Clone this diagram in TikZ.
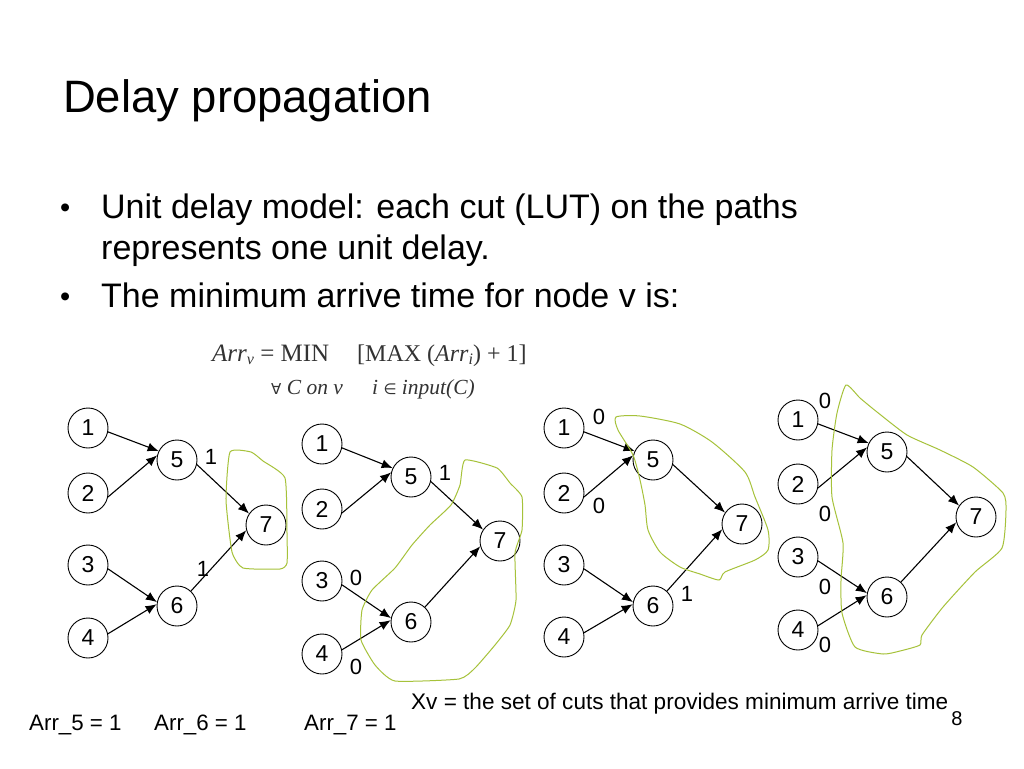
\documentclass[tikz,border=0pt]{standalone}
\usepackage{fontspec}
\setmainfont{Liberation Sans}
\newfontfamily\eqfont{Liberation Serif}
\newfontfamily\symfont{DejaVu Sans}
\usetikzlibrary{arrows.meta}
\definecolor{blob}{HTML}{A6C23A}
\definecolor{eqc}{HTML}{333333}
\tikzset{
  x=1pt,y=-1pt,
  circ/.style={draw=black,circle,line width=0.9pt,minimum size=40pt,inner sep=0pt,font=\fontsize{23}{23}\selectfont},
  edge/.style={-{Latex[length=11pt,width=9pt]},line width=1.1pt},
  lab/.style={inner sep=0pt,font=\fontsize{22}{22}\selectfont},
  title/.style={anchor=base west,inner sep=0pt,font=\fontsize{45.4}{45.4}\selectfont},
  body/.style={anchor=base west,inner sep=0pt,font=\fontsize{34}{34}\selectfont},
  bul/.style={anchor=base west,inner sep=0pt,font=\fontsize{29}{29}\selectfont},
  foot/.style={anchor=base west,inner sep=0pt,font=\fontsize{22.3}{22.3}\selectfont},
  xvt/.style={anchor=base west,inner sep=0pt,font=\fontsize{22.55}{22.55}\selectfont},
  eqt/.style={anchor=base west,inner sep=0pt,text=eqc,font=\eqfont\fontsize{#1}{#1}\selectfont},
  cut/.style={draw=blob,line width=1pt}
}
\newcommand{\graphat}[8]{%
  \node[circ] (#1a) at #2 {1};
  \node[circ] (#1b) at #3 {2};
  \node[circ] (#1c) at #4 {3};
  \node[circ] (#1d) at #5 {4};
  \node[circ] (#1e) at #6 {5};
  \node[circ] (#1f) at #7 {6};
  \node[circ] (#1g) at #8 {7};
  \draw[edge] (#1a.-11) -- (#1e.154);
  \draw[edge] (#1b.-11) -- (#1e.167);
  \draw[edge] (#1c.-11) -- (#1f.169);
  \draw[edge] (#1d.12) -- (#1f.175);
  \draw[edge] (#1e.-13) -- (#1g.146);
  \draw[edge] (#1f.47) -- (#1g.195);
}
\begin{document}
\begin{tikzpicture}
\useasboundingbox (0,0) rectangle (1024,768);
\fill[white] (0,0) rectangle (1024,768);

\node[title] (ttl) at (63,112) {Delay propagation};
\node[bul] (bu1) at (60,217) {•};
\node[body] (l1) at (101,218) {Unit delay model: each cut (LUT) on the paths};
\node[body] (l2) at (101,259) {represents one unit delay.};
\node[bul] (bu2) at (60,306) {•};
\node[body] (l3) at (101,307) {The minimum arrive time for node v is:};

\node[eqt=25] (eq1) at (212,361) {\itshape Arr\raisebox{-3pt}{\fontsize{16}{16}\selectfont v}\upshape\ = MIN};
\node[eqt=24] (eq2) at (357,361) {[MAX (\textit{Arr}\raisebox{-3pt}{\fontsize{16}{16}\selectfont\itshape i}) + 1]};
\node[eqt=21.5] (eq3) at (271,394) {{\symfont\fontsize{15}{15}\selectfont ∀} \textit{C on v}};
\node[eqt=21.5] (eq4) at (372,394) {\textit{i} {\symfont\fontsize{15}{15}\selectfont ∈} \textit{input(C)}};

\graphat{p}{(88,428)}{(88,493)}{(88,565)}{(88,638)}{(177,460)}{(177,606)}{(266,525)}
\graphat{q}{(322,444)}{(322,509)}{(322,581)}{(322,654)}{(411,477)}{(411,622)}{(500,541)}
\graphat{r}{(564,428)}{(564,493)}{(564,565)}{(564,637)}{(653,460)}{(653,606)}{(742,524)}
\graphat{s}{(798,420)}{(798,484)}{(798,557)}{(798,630)}{(887,452)}{(887,597)}{(976,517)}

% edge value labels
\node[lab] (pl1) at (211,457) {1};
\node[lab] (pl2) at (203,569) {1};
\node[lab] (ql1) at (445,473) {1};
\node[lab] (ql2) at (356,578) {0};
\node[lab] (ql3) at (356,667) {0};
\node[lab] (rl1) at (599,417) {0};
\node[lab] (rl2) at (599,506) {0};
\node[lab] (rl3) at (687,594) {1};
\node[lab] (sl1) at (825,401) {0};
\node[lab] (sl2) at (825,514) {0};
\node[lab] (sl3) at (825,587) {0};
\node[lab] (sl4) at (825,645) {0};

% hand-drawn cuts
\draw[cut] plot[smooth cycle,tension=0.3] coordinates {
 (230,452) (251,452) (263,461) (285,478) (287,533) (287,563) (280,569) (243,568) (232,552) (226,500)};
\draw[cut] plot[smooth cycle,tension=0.3] coordinates {
 (465,460) (497,468) (510,483) (522,497) (522,530) (515,553) (516,600) (510,625) (495,645) (475,668) (459,679) (395,681) (375,665) (361,640) (362,610) (372,590) (395,568) (412,545) (430,525) (451,505) (460,485)};
\draw[cut] plot[smooth cycle,tension=0.4] coordinates {
 (616,417) (640,416) (680,424) (712,442) (745,472) (755,497) (768,530) (768,550) (755,560) (725,572) (719,580) (700,574) (680,567) (660,552) (648,530) (645,505) (640,480) (633,455) (618,430)};
\draw[cut] plot[smooth cycle,tension=0.35] coordinates {
 (846,385) (860,398) (877,412) (907,435) (940,450) (973,467) (1003,493) (1006,510) (1002,548) (975,572) (943,607) (922,635) (920,645) (900,651) (883,654) (855,647) (842,613) (841,580) (843,543) (832,497) (832,450) (837,413)};

% footer
\node[foot] (ar1) at (29,730) {Arr\_5 = 1};
\node[foot] (ar2) at (154,730) {Arr\_6 = 1};
\node[foot] (ar3) at (304,730) {Arr\_7 = 1};
\node[xvt] (xv) at (411,709) {Xv = the set of cuts that provides minimum arrive time};
\node[anchor=base,inner sep=0pt,font=\fontsize{20}{20}\selectfont] (pg) at (957,725) {8};
\end{tikzpicture}
\end{document}
